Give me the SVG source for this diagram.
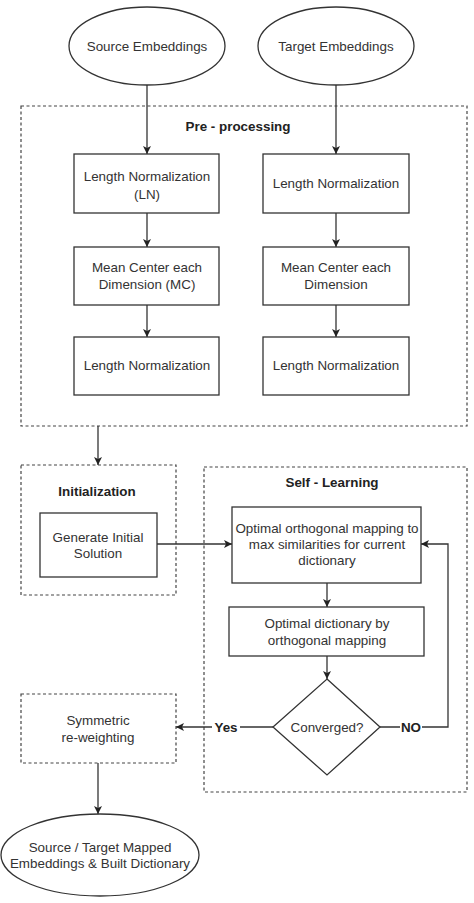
<svg xmlns="http://www.w3.org/2000/svg" width="474" height="903" viewBox="0 0 474 903">
<defs>
<marker id="arr" viewBox="0 0 10 10" refX="10" refY="5" markerWidth="8" markerHeight="8" markerUnits="userSpaceOnUse" orient="auto">
<path d="M0,0 L10,5 L0,10 L2.5,5 Z" fill="#222"/>
</marker>
<style>
.n{fill:#fff;stroke:#333;stroke-width:1.3}
.d{fill:none;stroke:#444;stroke-width:1.2;stroke-dasharray:3 2.5}
.t{font-family:"Liberation Sans",Arial,sans-serif;font-size:13.4px;fill:#333;text-anchor:middle}
.b{font-family:"Liberation Sans",Arial,sans-serif;font-size:13.4px;font-weight:bold;fill:#222;text-anchor:middle}
.c{fill:none;stroke:#333;stroke-width:1.3}
</style>
</defs>
<rect width="474" height="903" fill="#fff"/>

<g id="preprocessing">
<rect class="d" x="21" y="106" width="446" height="320"/>
<text class="b" x="238" y="131">Pre - processing</text>
</g>
<g id="initialization">
<rect class="d" x="21" y="465" width="155" height="130"/>
<text class="b" x="97" y="496">Initialization</text>
</g>
<g id="selflearning">
<rect class="d" x="204" y="467" width="263" height="325"/>
<text class="b" x="332" y="487">Self - Learning</text>
</g>

<g id="connectors">
<line class="c" x1="147" y1="85" x2="147" y2="154" marker-end="url(#arr)"/>
<line class="c" x1="336" y1="85" x2="336" y2="154" marker-end="url(#arr)"/>
<line class="c" x1="147" y1="213" x2="147" y2="247" marker-end="url(#arr)"/>
<line class="c" x1="336" y1="213" x2="336" y2="247" marker-end="url(#arr)"/>
<line class="c" x1="147" y1="305" x2="147" y2="337" marker-end="url(#arr)"/>
<line class="c" x1="336" y1="305" x2="336" y2="337" marker-end="url(#arr)"/>
<line class="c" x1="98" y1="426" x2="98" y2="465" marker-end="url(#arr)"/>
<line class="c" x1="157" y1="544" x2="232" y2="544" marker-end="url(#arr)"/>
<line class="c" x1="327" y1="583" x2="327" y2="607" marker-end="url(#arr)"/>
<line class="c" x1="327" y1="656" x2="327" y2="679" marker-end="url(#arr)"/>
<line class="c" x1="273" y1="727" x2="176" y2="727" marker-end="url(#arr)"/>
<polyline class="c" points="380,727 448,727 448,544 421,544" marker-end="url(#arr)"/>
<line class="c" x1="98" y1="763" x2="98" y2="814" marker-end="url(#arr)"/>
<rect x="212" y="719" width="28" height="16" fill="#fff"/>
<text class="b" x="226" y="732">Yes</text>
<rect x="400" y="719" width="22" height="16" fill="#fff"/>
<text class="b" x="411" y="732">NO</text>
</g>

<g id="source">
<ellipse class="n" cx="147" cy="46" rx="78" ry="39"/>
<text class="t" x="147" y="51">Source Embeddings</text>
</g>
<g id="target">
<ellipse class="n" cx="336" cy="46" rx="78" ry="39"/>
<text class="t" x="336" y="51">Target Embeddings</text>
</g>
<g id="ln1">
<rect class="n" x="74" y="154" width="145" height="59"/>
<text class="t" x="147" y="181">Length Normalization</text>
<text class="t" x="147" y="199">(LN)</text>
</g>
<g id="ln1t">
<rect class="n" x="263" y="154" width="146" height="59"/>
<text class="t" x="336" y="188">Length Normalization</text>
</g>
<g id="mc">
<rect class="n" x="74" y="247" width="145" height="58"/>
<text class="t" x="147" y="272">Mean Center each</text>
<text class="t" x="147" y="289">Dimension (MC)</text>
</g>
<g id="mct">
<rect class="n" x="263" y="247" width="146" height="58"/>
<text class="t" x="336" y="272">Mean Center each</text>
<text class="t" x="336" y="289">Dimension</text>
</g>
<g id="ln2">
<rect class="n" x="74" y="337" width="145" height="58"/>
<text class="t" x="147" y="370">Length Normalization</text>
</g>
<g id="ln2t">
<rect class="n" x="263" y="337" width="146" height="58"/>
<text class="t" x="336" y="370">Length Normalization</text>
</g>
<g id="generate">
<rect class="n" x="40" y="513" width="117" height="64"/>
<text class="t" x="98" y="542">Generate Initial</text>
<text class="t" x="98" y="558">Solution</text>
</g>
<g id="optmap">
<rect class="n" x="232" y="507" width="189" height="76"/>
<text class="t" x="327" y="533">Optimal orthogonal mapping to</text>
<text class="t" x="327" y="549">max similarities for current</text>
<text class="t" x="327" y="565">dictionary</text>
</g>
<g id="optdict">
<rect class="n" x="229" y="607" width="195" height="49"/>
<text class="t" x="327" y="628">Optimal dictionary by</text>
<text class="t" x="327" y="645">orthogonal mapping</text>
</g>
<g id="converged">
<polygon class="n" points="327,679 380,727 327,775 273,727"/>
<text class="t" x="327" y="732">Converged?</text>
</g>
<g id="symmetric">
<rect class="d" x="21" y="694" width="155" height="69"/>
<text class="t" x="98" y="725">Symmetric</text>
<text class="t" x="98" y="742">re-weighting</text>
</g>
<g id="output">
<ellipse class="n" cx="100" cy="855" rx="99" ry="41"/>
<text class="t" x="100" y="852">Source / Target Mapped</text>
<text class="t" x="100" y="868">Embeddings &amp; Built Dictionary</text>
</g>
</svg>
